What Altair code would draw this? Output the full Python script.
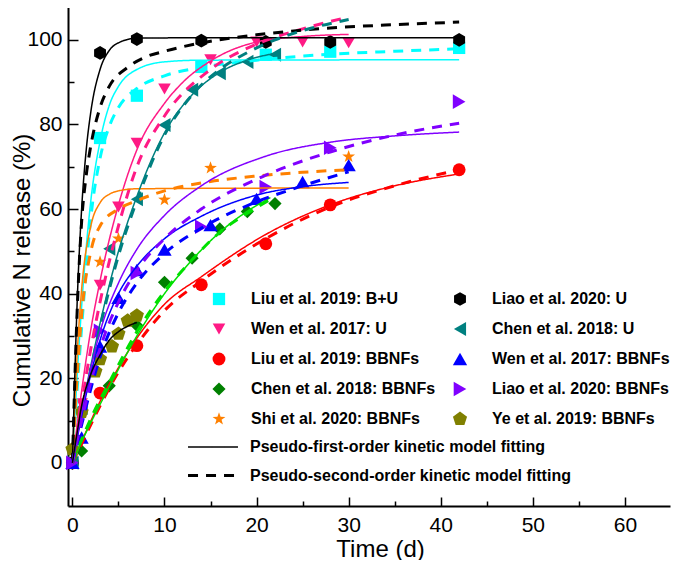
import pandas as pd
import altair as alt

FONT = 'Liberation Sans'

# ------------------------------------------------------------------
# measured points: time (d) and cumulative N release (%)
# ------------------------------------------------------------------
LIU_BU_T = [0, 3, 7, 14, 21, 28, 42]
LIU_BU_V = [0, 76.8, 86.8, 93.6, 96.5, 97.2, 98.1]

LIAO_U_T = [0, 3, 7, 14, 21, 28, 42]
LIAO_U_V = [0, 96.9, 100.2, 99.8, 99.5, 99.5, 100.0]

WEN_U_T = [0, 1, 3, 5, 7, 10, 15, 20, 25, 30]
WEN_U_V = [0, 14, 42, 60.5, 75.6, 88.4, 95.3, 99.5, 99.5, 99.3]

CHEN_U_T = [0, 1, 4, 7, 10, 13, 16, 19, 22]
CHEN_U_V = [0, 13, 50.6, 62.3, 79.9, 88.2, 92.1, 94.8, 96.5]

LIU_BB_T = [0, 3, 7, 14, 21, 28, 42]
LIU_BB_V = [0, 16.5, 27.7, 42.1, 51.8, 61.0, 69.3]

WEN_BB_T = [0, 1, 3, 5, 7, 10, 15, 20, 25, 30]
WEN_BB_V = [0, 6, 27.5, 39, 45.6, 50.4, 56.2, 62.4, 66.4, 70.4]

CHEN_BB_T = [0, 1, 4, 7, 10, 13, 16, 19, 22]
CHEN_BB_V = [0, 2.8, 18.2, 32.5, 42.7, 48.4, 55.3, 59.4, 61.3]

LIAO_BB_T = [0, 3, 7, 14, 21, 28, 42]
LIAO_BB_V = [0, 31.2, 44.9, 55.8, 65.2, 74.5, 85.4]

SHI_BB_T = [0, 3, 5, 10, 15, 30]
SHI_BB_V = [0, 47.5, 53.0, 62.2, 69.7, 72.4]

YE_BB_T = [0, 1, 2.5, 3, 4.3, 5, 6, 7]
YE_BB_V = [3.2, 12, 21.6, 24.5, 27.5, 30.5, 33.6, 34.8]

# ------------------------------------------------------------------
# fitted curves, (t, value)
# FIT1 = pseudo-first-order, FIT2 = pseudo-second-order
# ------------------------------------------------------------------
LIU_BU_FIT1 = [(0, 0), (0.5, 20), (1, 37), (2, 62), (3, 76), (4, 84.5), (5, 89), (7, 93),
               (10, 94.8), (14, 95.2), (42, 95.3)]
LIU_BU_FIT2 = [(0, 0), (0.5, 17), (1, 32), (2, 58), (3, 72), (4, 79.5), (5, 84), (7, 88.5),
               (10, 91.5), (14, 93.5), (20, 95.2), (28, 96.6), (35, 97.3), (42, 97.9)]

LIAO_U_FIT1 = [(0, 0), (0.25, 20), (0.5, 37), (1, 60), (1.5, 74), (2, 83), (3, 93), (4, 97.5),
               (5, 99.3), (7, 100.4), (14, 100.5), (42, 100.5)]
LIAO_U_FIT2 = [(0, 0), (0.5, 35), (1, 57), (1.5, 68), (2, 75), (3, 84), (4, 89), (6, 93.5),
               (8, 96), (10, 97.3), (14, 99.3), (20, 101.2), (28, 102.8), (35, 103.6), (42, 104.2)]

WEN_U_FIT1 = [(0, 0), (1, 17), (2, 31.5), (3, 43), (5, 61), (7, 74), (10, 85), (12, 90),
              (15, 95), (20, 99.5), (25, 100.8), (30, 101.3)]
WEN_U_FIT2 = [(0, 0), (1, 14), (2, 27), (3, 38), (5, 56), (7, 70), (10, 82), (15, 93),
              (20, 99), (25, 102.6), (30, 105.4)]

CHEN_U_FIT1 = [(0, 0), (1, 12), (2, 23), (4, 42), (5, 50), (7, 63), (10, 78), (13, 87),
               (16, 92.3), (19, 95.2), (22.5, 97)]
CHEN_U_FIT2 = [(0, 0), (1, 11), (2, 22), (4, 41), (5, 49), (7, 62), (10, 77.5), (13, 87),
               (16, 93), (19, 97), (22, 100), (26, 102.8), (30, 104.8)]

LIU_BB_FIT1 = [(0, 0), (1, 5), (3, 14.5), (5, 22.5), (7, 29.5), (10, 37.5), (14, 44),
               (21, 54), (28, 61), (35, 65.5), (42, 68.3)]
LIU_BB_FIT2 = [(0, 0), (1, 4.5), (3, 13.5), (5, 21.5), (7, 28), (10, 36), (14, 43),
               (21, 53), (28, 60.5), (35, 65.5), (42, 69.3)]

WEN_BB_FIT1 = [(0, 0), (1, 11), (2, 21), (3, 29), (5, 40), (7, 46.5), (10, 53), (14, 58.3),
               (20, 63.3), (25, 65.3), (30, 66.3)]
WEN_BB_FIT2 = [(0, 0), (1, 9), (3, 25), (5, 35.5), (7, 42.5), (10, 49.5), (14, 55.5),
               (20, 61.7), (25, 65.5), (30, 68.8)]

CHEN_BB_FIT1 = [(0, 0), (1, 5), (2, 9.5), (4, 18), (7, 30), (10, 40), (13, 48), (16, 54.5),
                (19, 59.5), (21.5, 62.7)]
CHEN_BB_FIT2 = [(0, 0), (1, 5.5), (2, 10.5), (4, 19), (7, 31), (10, 40.5), (13, 48),
                (16, 54.5), (19, 59), (21.5, 62.3)]

LIAO_BB_FIT1 = [(0, 0), (1, 12), (3, 31), (5, 42.5), (7, 50.5), (10, 58.5), (14, 65.5),
                (21, 72.5), (28, 75.8), (35, 77.3), (42, 78.2)]
LIAO_BB_FIT2 = [(0, 0), (1, 10), (3, 27), (5, 38), (7, 45.5), (10, 53), (14, 60), (21, 68),
                (28, 73.5), (35, 77.5), (42, 80.3)]

SHI_BB_FIT1 = [(0, 0), (0.5, 25), (1, 41), (2, 56), (3, 61.5), (4, 63.5), (5, 64.3), (7, 64.8),
               (30, 65)]
SHI_BB_FIT2 = [(0, 0), (0.5, 20), (1, 35), (2, 50), (3, 56), (5, 60), (7, 62), (10, 64.3),
               (15, 66.5), (20, 67.8), (25, 68.7), (30, 69.3)]

YE_BB_FIT1 = [(0, 0), (0.5, 7), (1, 13.5), (2, 21), (3, 25.5), (4, 29), (5, 31), (6, 32.3),
              (7, 33.2)]

# custom marker outlines (unit box)
HEXAGON = 'M0,-1L0.866,-0.5L0.866,0.5L0,1L-0.866,0.5L-0.866,-0.5Z'
STAR = ('M0,-1L0.235,-0.324L0.951,-0.309L0.38,0.124L0.588,0.809L0,0.4L-0.588,0.809'
        'L-0.38,0.124L-0.951,-0.309L-0.235,-0.324Z')
PENTAGON = 'M0,-1L0.951,-0.309L0.588,0.809L-0.588,0.809L-0.951,-0.309Z'
LONG_STROKE = 'M-4,0L4,0'

# legend fills column by column (two columns of five)
# name, t, v, marker colour, shape, size, line colour, fit1, fit2
SERIES = [
    ('Liu et al. 2019: B+U', LIU_BU_T, LIU_BU_V, '#00FFFF', 'square', 150, '#00FFFF', LIU_BU_FIT1, LIU_BU_FIT2),
    ('Wen et al. 2017: U', WEN_U_T, WEN_U_V, '#FF1A85', 'triangle-down', 220, '#FF1A85', WEN_U_FIT1, WEN_U_FIT2),
    ('Liu et al. 2019: BBNFs', LIU_BB_T, LIU_BB_V, '#FF0000', 'circle', 130, '#FF0000', LIU_BB_FIT1, LIU_BB_FIT2),
    ('Chen et al. 2018: BBNFs', CHEN_BB_T, CHEN_BB_V, '#008000', 'diamond', 210, '#00E000', CHEN_BB_FIT1, CHEN_BB_FIT2),
    ('Shi et al. 2020: BBNFs', SHI_BB_T, SHI_BB_V, '#FF8000', STAR, 280, '#FF8000', SHI_BB_FIT1, SHI_BB_FIT2),
    ('Liao et al. 2020: U', LIAO_U_T, LIAO_U_V, '#000000', HEXAGON, 190, '#000000', LIAO_U_FIT1, LIAO_U_FIT2),
    ('Chen et al. 2018: U', CHEN_U_T, CHEN_U_V, '#008080', 'triangle-left', 220, '#008080', CHEN_U_FIT1, CHEN_U_FIT2),
    ('Wen et al. 2017: BBNFs', WEN_BB_T, WEN_BB_V, '#0000FF', 'triangle-up', 220, '#0000FF', WEN_BB_FIT1, WEN_BB_FIT2),
    ('Liao et al. 2020: BBNFs', LIAO_BB_T, LIAO_BB_V, '#8000FF', 'triangle-right', 220, '#8000FF', LIAO_BB_FIT1, LIAO_BB_FIT2),
    ('Ye et al. 2019: BBNFs', YE_BB_T, YE_BB_V, '#808000', PENTAGON, 200, '#000000', YE_BB_FIT1, None),
]
MODELS = ['Pseudo-first-order kinetic model fitting', 'Pseudo-second-order kinetic model fitting']

NAMES = [s[0] for s in SERIES]

pts_rows = []
fit_rows = []
for name, ts, vs, mc, shp, sz, lc, fit1, fit2 in SERIES:
    for t, v in zip(ts, vs):
        pts_rows.append({'series': name, 't': t, 'v': v})
    for model, fit in zip(MODELS, [fit1, fit2]):
        if fit is None:
            continue
        for t, v in fit:
            fit_rows.append({'series': name, 'model': model, 'lc': lc, 't': t, 'v': v})
df_pts = pd.DataFrame(pts_rows)
df_fit = pd.DataFrame(fit_rows)

########################################################################
# scales and axes (ticks point inward, so they get their own axes)
########################################################################
x_scale = alt.Scale(domain=[-0.48, 64.9], nice=False, zero=False)
y_scale = alt.Scale(domain=[-10.2, 109.9], nice=False, zero=False)

x_axis = alt.Axis(orient='bottom', values=list(range(0, 61, 10)), ticks=False, tickSize=0,
                  domainColor='black', domainWidth=2, grid=False,
                  labelFont=FONT, labelFontSize=21, labelColor='black', labelPadding=8,
                  title='Time (d)', titleFont=FONT, titleFontSize=24, titleFontWeight='normal',
                  titleColor='black', titleX=312, titleY=50, titleBaseline='alphabetic')
y_axis = alt.Axis(orient='left', values=list(range(0, 101, 20)), ticks=False, tickSize=0,
                  domainColor='black', domainWidth=2, grid=False,
                  labelFont=FONT, labelFontSize=21, labelColor='black', labelPadding=6,
                  title='Cumulative N release (%)', titleFont=FONT, titleFontSize=24,
                  titleFontWeight='normal', titleColor='black', titleAngle=270,
                  titleX=-46, titleY=272, titleAlign='center', titleBaseline='middle')

x_ticks = alt.Axis(orient='bottom', values=list(range(0, 61, 10)), domain=False, labels=False,
                   tickSize=9, tickWidth=1.5, tickColor='black', offset=-9, grid=False, title=None)
y_ticks = alt.Axis(orient='left', values=list(range(0, 101, 20)), domain=False, labels=False,
                   tickSize=10, tickWidth=1.5, tickColor='black', offset=-10, grid=False, title=None)
x_minor = alt.Axis(orient='bottom', values=list(range(5, 60, 10)), domain=False, labels=False,
                   tickSize=5, tickWidth=1.5, tickColor='black', offset=-5, grid=False, title=None)
y_minor = alt.Axis(orient='left', values=list(range(10, 100, 20)), domain=False, labels=False,
                   tickSize=6, tickWidth=1.5, tickColor='black', offset=-6, grid=False, title=None)

series_legend = alt.Legend(orient='none', legendX=143, legendY=293, columns=2, columnPadding=16,
                           rowPadding=14, padding=0, title=None, labelFont=FONT, labelFontSize=16,
                           labelFontWeight='bold', labelColor='black', labelOffset=24, labelLimit=400,
                           symbolSize=150, symbolStrokeWidth=0, symbolOpacity=1)
model_legend = alt.Legend(orient='none', legendX=137, legendY=441, padding=0, title=None,
                          symbolType=LONG_STROKE, symbolSize=156, symbolStrokeColor='black',
                          labelFont=FONT, labelFontSize=16, labelFontWeight='bold',
                          labelColor='black', labelOffset=29, labelLimit=500, rowPadding=12.5)

########################################################################
# layers
########################################################################
points = alt.Chart(df_pts).mark_point(filled=True, opacity=1).encode(
    x=alt.X('t:Q', scale=x_scale, axis=x_axis),
    y=alt.Y('v:Q', scale=y_scale, axis=y_axis),
    color=alt.Color('series:N', scale=alt.Scale(domain=NAMES, range=[s[3] for s in SERIES]),
                    legend=series_legend),
    shape=alt.Shape('series:N', scale=alt.Scale(domain=NAMES, range=[s[4] for s in SERIES]),
                    legend=series_legend),
    size=alt.Size('series:N', scale=alt.Scale(domain=NAMES, range=[s[5] for s in SERIES]),
                  legend=None),
)

lines = alt.Chart(df_fit).mark_line(interpolate='monotone').encode(
    x=alt.X('t:Q', scale=x_scale, axis=x_ticks),
    y=alt.Y('v:Q', scale=y_scale, axis=y_ticks),
    color=alt.Color('lc:N', scale=None),
    detail='series:N',
    strokeDash=alt.StrokeDash('model:N', scale=alt.Scale(domain=MODELS, range=[[1, 0], [10, 8]]),
                              legend=model_legend),
    strokeWidth=alt.StrokeWidth('model:N', scale=alt.Scale(domain=MODELS, range=[1.5, 3]),
                                legend=model_legend),
)

minor = alt.Chart(df_pts).mark_point(opacity=0).encode(
    x=alt.X('t:Q', scale=x_scale, axis=x_minor),
    y=alt.Y('v:Q', scale=y_scale, axis=y_minor),
)

chart = alt.layer(points, lines, minor).resolve_scale(
    color='independent', shape='independent', size='independent'
).resolve_axis(
    x='independent', y='independent'
).properties(
    width=602, height=508,
    padding={'left': 60, 'top': -10, 'right': 5, 'bottom': 54},
    autosize=alt.AutoSizeParams(type='none'),
).configure_view(
    stroke=None
)

chart.save('out.html', embed_options={'renderer': 'svg', 'actions': False})
